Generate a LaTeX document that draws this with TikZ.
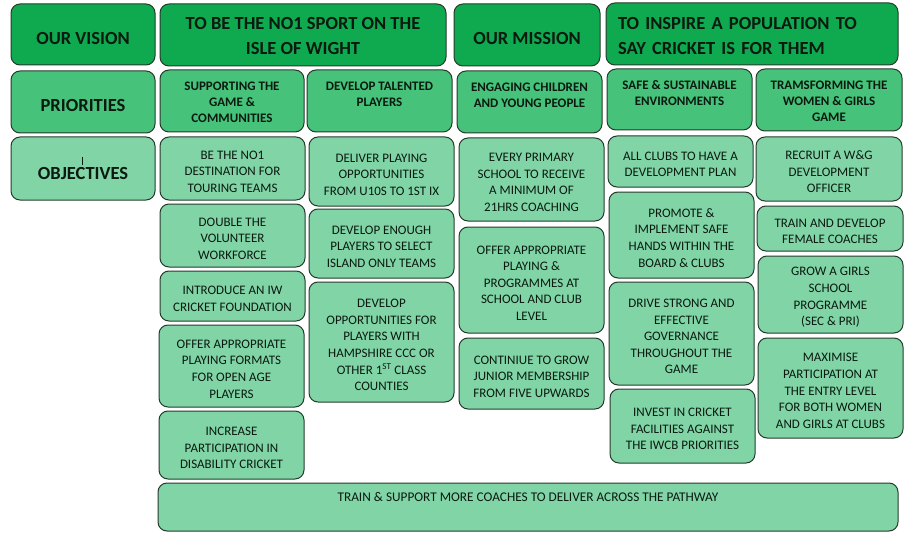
\documentclass[tikz,border=0pt]{standalone}
\usepackage{fontspec}
\setmainfont{Carlito}
\definecolor{gA}{HTML}{0FAA4F}
\definecolor{gB}{HTML}{46C27A}
\definecolor{gC}{HTML}{80D4A6}
\definecolor{edge}{HTML}{263A2C}
\definecolor{txt}{HTML}{0A1A10}
\def\dropH{0pt}
\newcommand\ibox[7]{\node[#1, minimum width={(#5-#3)*1pt}, minimum height={(#6-#4)*1pt}] (#2) at ({(#3+#5)/2},{(#4+#6)/2}) {\rule{0pt}{\dropH}#7};}
\tikzset{
  bx/.style={draw=edge, line width=1pt, rounded corners=9pt, align=center, inner sep=0pt, text=txt},
  dropby/.style={/utils/exec={\def\dropH{\dimexpr0.65em+#1\relax}}},
  rowA/.style={bx, fill=gA, font=\fontsize{18.5}{25}\selectfont\bfseries, dropby=2pt},
  rowAone/.style={bx, fill=gA, font=\fontsize{18.5}{25}\selectfont\bfseries, dropby=8pt},
  rowB/.style={bx, fill=gB, font=\fontsize{13}{16}\selectfont\bfseries, dropby=3.5pt},
  rowBbig/.style={bx, fill=gB, font=\fontsize{18.5}{25}\selectfont\bfseries, dropby=8pt},
  rowC/.style={bx, fill=gC, font=\fontsize{13}{16.6}\selectfont, dropby=6pt},
  rowCbig/.style={bx, fill=gC, font=\fontsize{18.5}{25}\selectfont\bfseries, dropby=10pt},
}
\begin{document}
\begin{tikzpicture}[x=1pt,y=-1pt]
\useasboundingbox (0,0) rectangle (909,540);
% row 1
\ibox{rowAone}{vision}{11}{4}{155}{65}{OUR VISION}
\ibox{rowA}{visiontxt}{160}{4}{446}{66}{TO BE THE NO1 SPORT ON THE\\ISLE OF WIGHT}
\ibox{rowAone}{mission}{454}{4}{600}{66}{OUR MISSION}
\ibox{rowA, align=left, text width=268pt, dropby=4pt}{missiontxt}{606}{3}{898}{65}{TO INSPIRE A POPULATION TO\\SAY CRICKET IS FOR THEM}
% row 2
\ibox{rowBbig}{prio}{11}{71}{155}{133}{PRIORITIES}
\ibox{rowB}{pA}{160}{70}{304}{132}{SUPPORTING THE\\GAME \&\\COMMUNITIES}
\ibox{rowB}{pB}{307}{70}{452}{132}{DEVELOP TALENTED\\PLAYERS\\\mbox{}}
\ibox{rowB}{pC}{457}{71}{602}{133}{ENGAGING CHILDREN\\AND YOUNG PEOPLE\\\mbox{}}
\ibox{rowB}{pD}{607}{69}{752}{130}{SAFE \& SUSTAINABLE\\ENVIRONMENTS\\\mbox{}}
\ibox{rowB}{pE}{756}{69}{902}{131}{TRAMSFORMING THE\\WOMEN \& GIRLS\\GAME}
% row 3
\ibox{rowCbig}{obj}{11}{137}{155}{200}{OBJECTIVES}
\draw[txt, line width=0.6pt] (82,157) -- (82,165);
% column A
\ibox{rowC}{aA}{160}{137}{305}{200}{BE THE NO1\\DESTINATION FOR\\TOURING TEAMS}
\ibox{rowC}{aB}{160}{204}{305}{267}{DOUBLE THE\\VOLUNTEER\\WORKFORCE}
\ibox{rowC}{aC}{160}{271}{305}{321}{INTRODUCE AN IW\\CRICKET FOUNDATION}
\ibox{rowC}{aD}{159}{325}{304}{407}{OFFER APPROPRIATE\\PLAYING FORMATS\\FOR OPEN AGE\\PLAYERS}
\ibox{rowC}{aE}{159}{411}{304}{479}{INCREASE\\PARTICIPATION IN\\DISABILITY CRICKET}
% column B
\ibox{rowC}{bA}{309}{137}{454}{206}{DELIVER PLAYING\\OPPORTUNITIES\\FROM U10S TO 1ST IX}
\ibox{rowC}{bB}{309}{209}{454}{278}{DEVELOP ENOUGH\\PLAYERS TO SELECT\\ISLAND ONLY TEAMS}
\ibox{rowC}{bC}{309}{282}{454}{402}{DEVELOP\\OPPORTUNITIES FOR\\PLAYERS WITH\\HAMPSHIRE CCC OR\\OTHER 1\textsuperscript{ST} CLASS\\COUNTIES}
% column C
\ibox{rowC}{cA}{459}{138}{604}{221}{EVERY PRIMARY\\SCHOOL TO RECEIVE\\A MINIMUM OF\\21HRS COACHING}
\ibox{rowC}{cB}{459}{227}{604}{333}{OFFER APPROPRIATE\\PLAYING \&\\PROGRAMMES AT\\SCHOOL AND CLUB\\LEVEL}
\ibox{rowC}{cC}{459}{338}{604}{409}{CONTINIUE TO GROW\\JUNIOR MEMBERSHIP\\FROM FIVE UPWARDS}
% column D
\ibox{rowC}{dA}{608}{136}{753}{187}{ALL CLUBS TO HAVE A\\DEVELOPMENT PLAN}
\ibox{rowC}{dB}{609}{192}{754}{278}{PROMOTE \&\\IMPLEMENT SAFE\\HANDS WITHIN THE\\BOARD \& CLUBS}
\ibox{rowC}{dC}{609}{282}{754}{385}{DRIVE STRONG AND\\EFFECTIVE\\GOVERNANCE\\THROUGHOUT THE\\GAME}
\ibox{rowC}{dD}{610}{389}{755}{463}{INVEST IN CRICKET\\FACILITIES AGAINST\\THE IWCB PRIORITIES}
% column E
\ibox{rowC}{eA}{756}{137}{902}{201}{RECRUIT A W\&G\\DEVELOPMENT\\OFFICER}
\ibox{rowC}{eB}{757}{206}{903}{251}{TRAIN AND DEVELOP\\FEMALE COACHES}
\ibox{rowC}{eC}{758}{256}{903}{333}{GROW A GIRLS\\SCHOOL\\PROGRAMME\\(SEC \& PRI)}
\ibox{rowC}{eD}{758}{338}{903}{438}{MAXIMISE\\PARTICIPATION AT\\THE ENTRY\ LEVEL\\FOR BOTH WOMEN\\AND GIRLS AT CLUBS}
% bottom
\ibox{rowC, font=\fontsize{13.3}{15}\selectfont, dropby=-0.65em}{bottom}{158}{483}{898}{531}{TRAIN \& SUPPORT MORE COACHES TO DELIVER ACROSS THE PATHWAY\rule[-20pt]{0pt}{20pt}}
\end{tikzpicture}
\end{document}
